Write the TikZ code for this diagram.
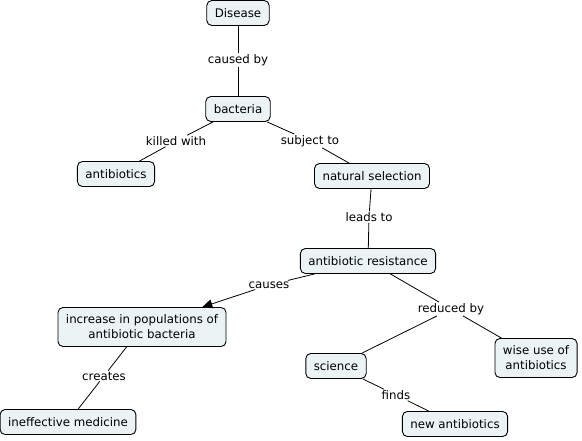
\documentclass[tikz,border=0pt]{standalone}
\usepackage{fontspec}
\setmainfont{DejaVu Sans}
\usepackage{tikz}
\usetikzlibrary{arrows.meta}
\definecolor{conceptfill}{RGB}{236,243,245}
\tikzset{
    concept/.style={draw=black, fill=conceptfill, rounded corners=5pt, line width=0.9pt,
        inner xsep=8pt, inner ysep=2pt, minimum height=25pt, align=center,
        font=\fontsize{11.8}{15}\selectfont},
    tallconcept/.style={concept, minimum height=39pt},
    linkphrase/.style={fill=white, inner sep=1pt, font=\fontsize{11.8}{15}\selectfont},
    link/.style={draw=black, line width=0.8pt},
    linkarrow/.style={draw=black, line width=0.8pt, -{Triangle[length=10pt,width=9pt]}},
}
\begin{document}
\begin{tikzpicture}[x=1pt, y=-1pt]
		\useasboundingbox (0,0) rectangle (582,440);
		\node[concept] (disease) at (238,13) {Disease};
		\node[linkphrase] (causedby) at (238,60) {caused by};
		\node[concept] (bacteria) at (238,109) {bacteria};
		%
		\node[linkphrase] (killedwith) at (176,141) {killed with};
		\node[concept] (antibiotics) at (116,174) {antibiotics};
		\node[linkphrase] (subjectto) at (310,141) {subject to};
		\node[concept] (natsel) at (372,176) {natural selection};
		%
		\node[linkphrase] (leadsto) at (369,217) {leads to};
		\node[concept] (antres) at (368,261) {antibiotic resistance};
		\node[linkphrase] (causes) at (269,285) {causes};
		\node[tallconcept] (increase) at (142,327) {increase in populations of\\antibiotic bacteria};
		\node[linkphrase] (creates) at (104,376) {creates};
		\node[concept] (ineffective) at (68,422) {ineffective medicine};
		%
		\node[linkphrase] (reducedby) at (451,309) {reduced by};
		\node[concept] (science) at (336,366) {science};
		\node[tallconcept] (wiseuse) at (536,358) {wise use of\\antibiotics};
		\node[linkphrase] (finds) at (396,395) {finds};
		\node[concept] (newanti) at (455,424) {new antibiotics};
		%
		\draw[link] (disease) -- (causedby) -- (bacteria);
		\draw[link] (bacteria) -- (killedwith) -- (antibiotics);
		\draw[link] (bacteria) -- (subjectto) -- (natsel);
		\draw[link] (natsel) -- (leadsto) -- (antres);
		\draw[link] (antres) -- (causes);
		\draw[linkarrow] (causes) -- (increase);
		\draw[link] (increase) -- (creates) -- (ineffective);
		\draw[link] (antres) -- (reducedby) -- (science);
		\draw[link] (reducedby) -- (wiseuse);
		\draw[link] (science) -- (finds) -- (newanti);
	\end{tikzpicture}
\end{document}
